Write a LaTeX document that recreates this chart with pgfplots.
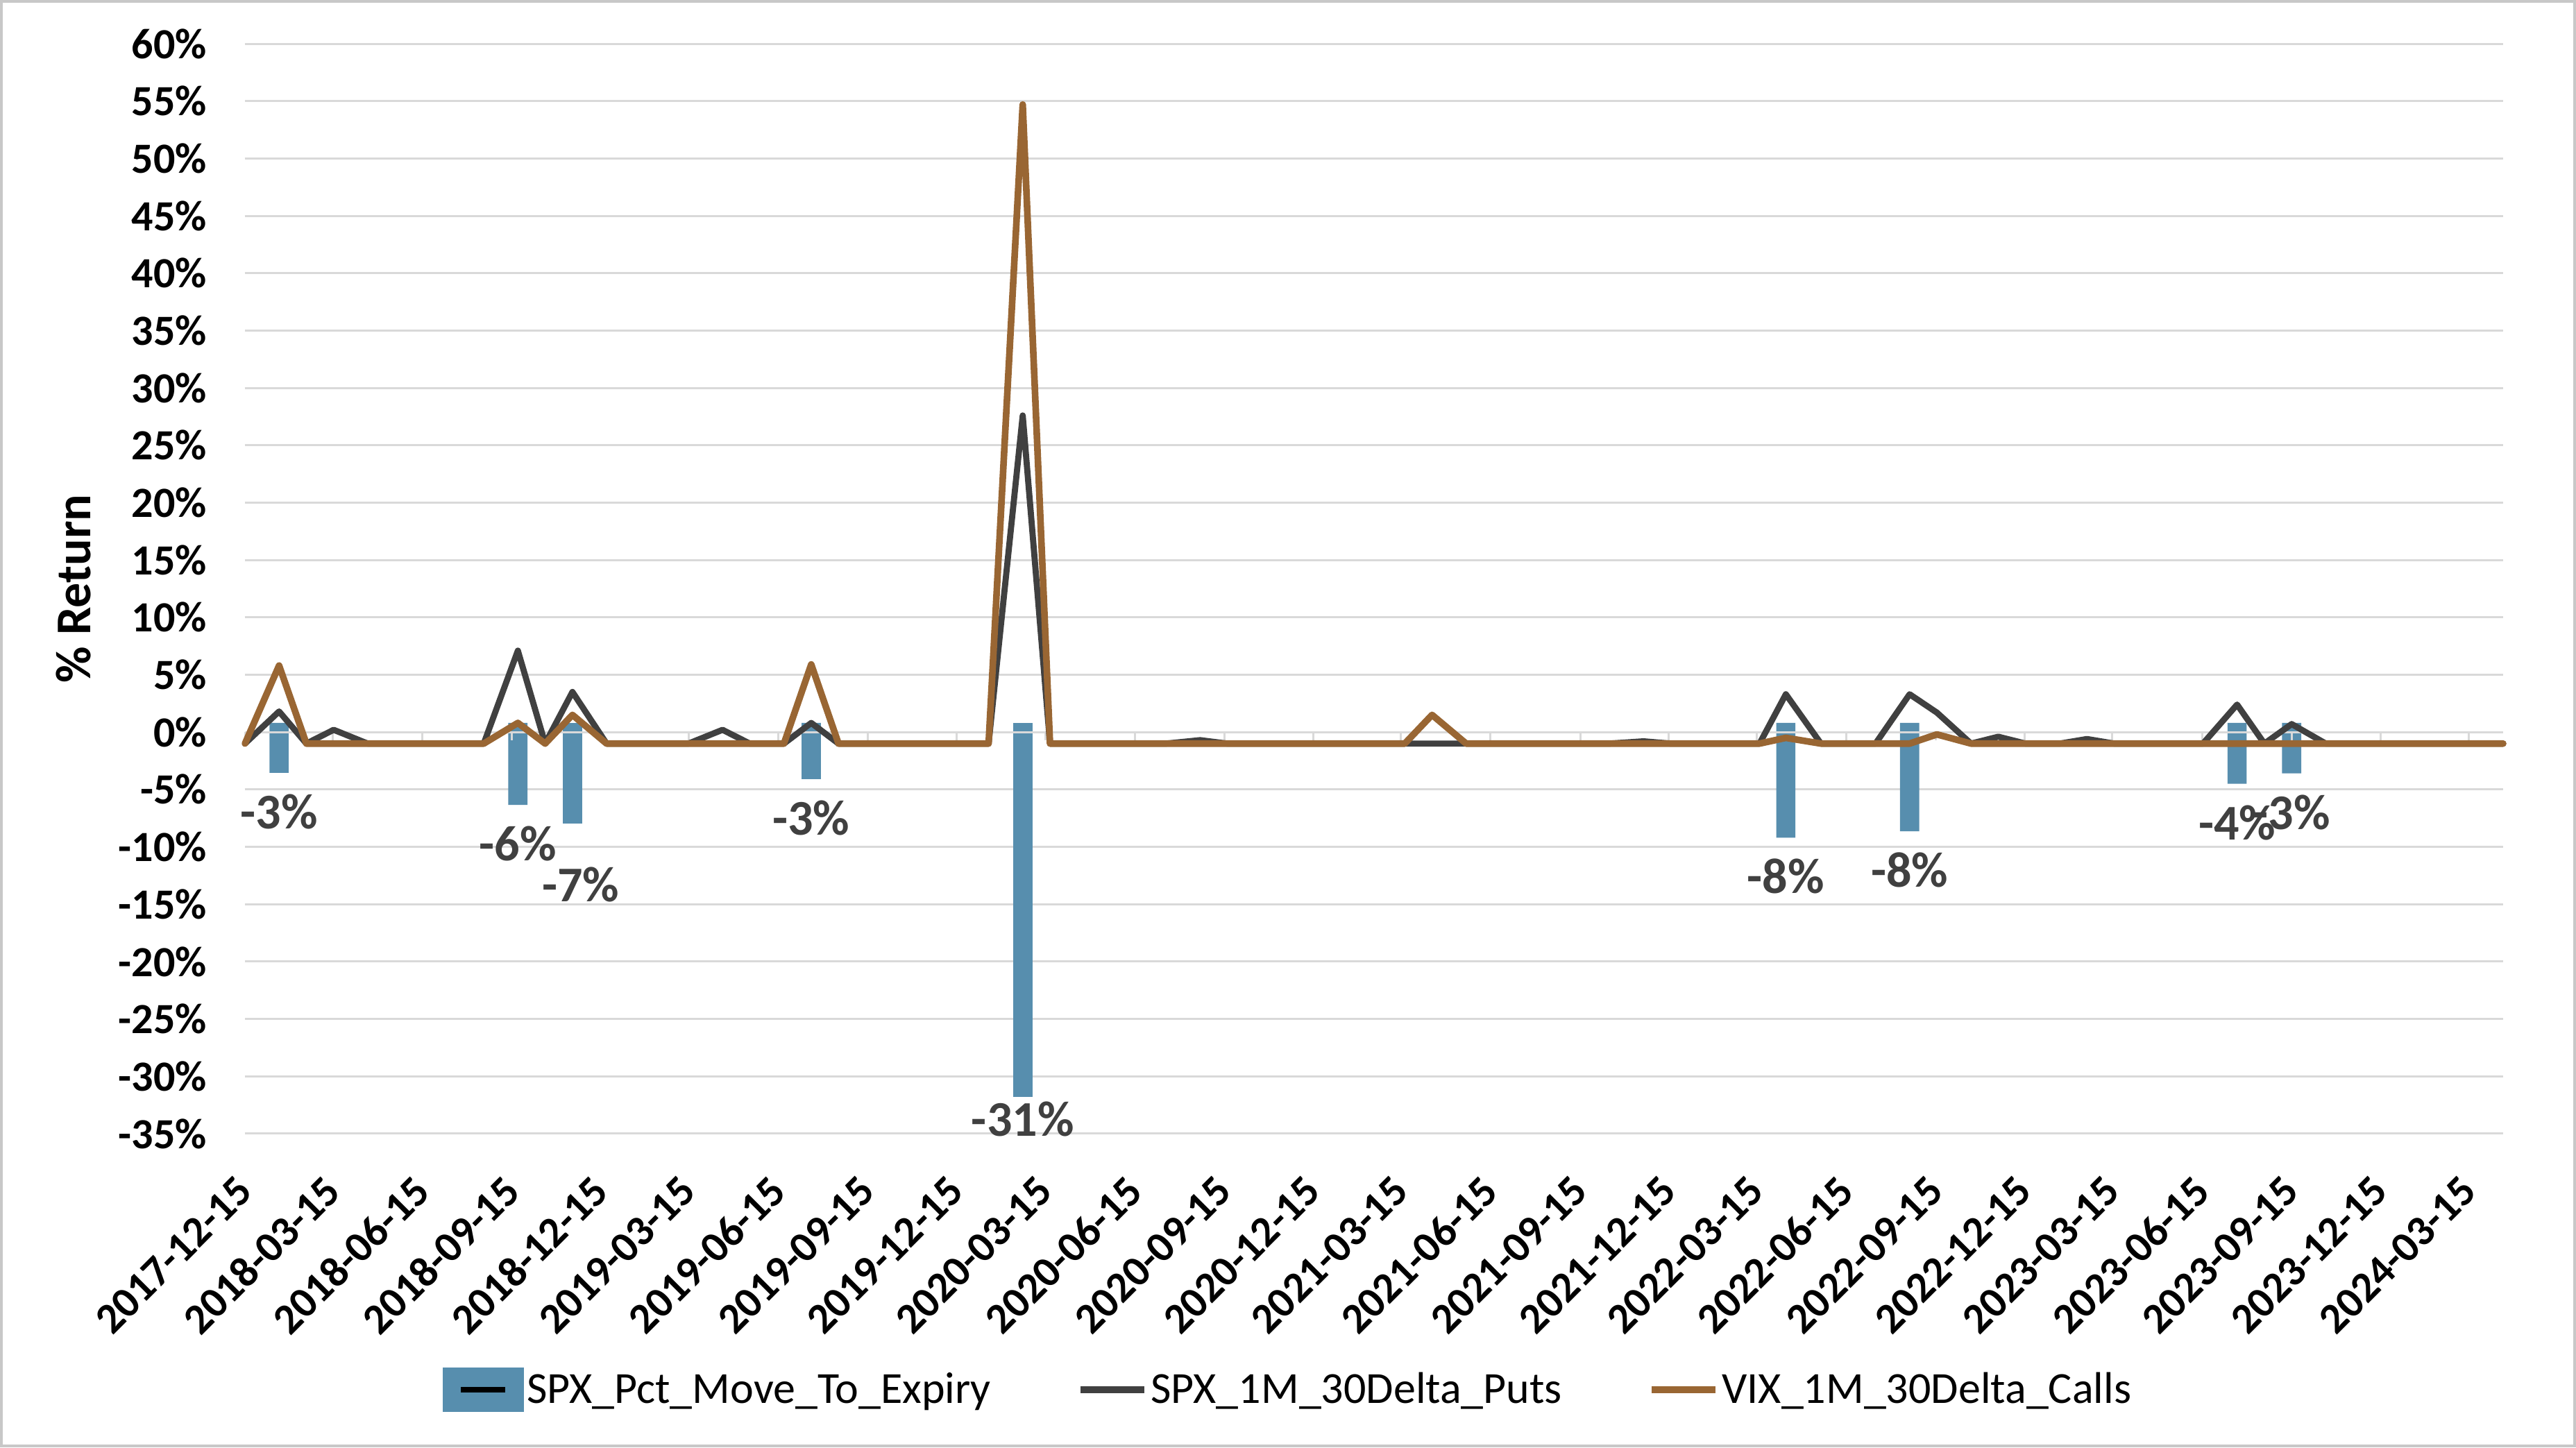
\documentclass[border=0pt]{standalone}
\usepackage{fontspec}
\setmainfont{Carlito}
\usepackage{pgfplots}
\pgfplotsset{compat=1.18}
\usepackage{pgfplotstable}

\definecolor{barblue}{HTML}{578EAE}
\definecolor{putgray}{HTML}{404040}
\definecolor{callbrown}{HTML}{996633}
\definecolor{gridgray}{HTML}{D9D9D9}
\definecolor{framegray}{HTML}{C8C8C8}
\definecolor{labgray}{HTML}{404040}

% day = days since 2017-12-15 (monthly expiry Fridays), returns in %
\pgfplotstableread{
day  puts  calls
0    -1    -1
35   1.8   5.8
63   -1    -1
91   0.2   -1
126  -1    -1
154  -1    -1
182  -1    -1
217  -1    -1
245  -1    -1
280  7.1   0.8
308  -1    -1
336  3.5   1.5
371  -1    -1
399  -1    -1
427  -1    -1
455  -1    -1
490  0.2   -1
518  -1    -1
553  -1    -1
581  0.8   5.9
609  -1    -1
644  -1    -1
672  -1    -1
700  -1    -1
735  -1    -1
763  -1    -1
798  27.6  54.7
826  -1    -1
854  -1    -1
882  -1    -1
917  -1    -1
945  -1    -1
980  -0.7  -1
1008 -1    -1
1036 -1    -1
1071 -1    -1
1099 -1    -1
1127 -1    -1
1162 -1    -1
1190 -1    -1
1218 -1    1.5
1253 -1    -1
1281 -1    -1
1309 -1    -1
1344 -1    -1
1372 -1    -1
1400 -1    -1
1435 -0.8  -1
1463 -1    -1
1498 -1    -1
1526 -1    -1
1554 -1    -1
1581 3.3   -0.5
1617 -1    -1
1645 -1    -1
1673 -1    -1
1708 3.3   -1
1736 1.7   -0.2
1771 -1    -1
1799 -0.4  -1
1827 -1    -1
1862 -1    -1
1890 -0.6  -1
1918 -1    -1
1953 -1    -1
1981 -1    -1
2009 -1    -1
2044 2.4   -1
2072 -1    -1
2100 0.7   -1
2135 -1    -1
2163 -1    -1
2191 -1    -1
2226 -1    -1
2254 -1    -1
2282 -1    -1
2317 -1    -1
}\returns

% SPX move bars: bottom of the bar (bars hang from +0.8)
\pgfplotstableread{
day  bot    lab
35   -3.55  -3
280  -6.35  -6
581  -4.1   -3
1581 -9.2   -8
1708 -8.65  -8
2044 -4.5   -4
2100 -3.6   -3
}\movesA
\pgfplotstableread{
day  bot    lab
336  -7.95  -7
}\movesB
\pgfplotstableread{
day  bot    lab
798  -31.8  -31
}\movesC

\begin{document}
\begin{tikzpicture}
\draw[framegray, line width=1pt] (0.5pt,-0.5pt) rectangle (927.5pt,-521pt);

\pgfplotsset{base/.style={at={(88.25pt,-15.75pt)}, anchor=north west,
  width=813.5pt, height=392.75pt, scale only axis, xmin=0, xmax=2317}}
\tikzset{barlab/.style={anchor=center, text=labgray,
  font=\fontsize{18}{21}\selectfont\bfseries}}

% grid, tick labels, legend
\begin{axis}[base, ymin=-35, ymax=60,
  ytick={-35,-30,...,60},
  yticklabels={-35\%,-30\%,-25\%,-20\%,-15\%,-10\%,-5\%,0\%,5\%,10\%,15\%,20\%,25\%,30\%,35\%,40\%,45\%,50\%,55\%,60\%},
  xtick={0,90,182,274,365,455,547,639,730,821,913,1005,1096,1186,1278,1370,1461,1551,1643,1735,1826,1916,2008,2100,2191,2282},
  xticklabels={2017-12-15,2018-03-15,2018-06-15,2018-09-15,2018-12-15,2019-03-15,2019-06-15,2019-09-15,2019-12-15,2020-03-15,2020-06-15,2020-09-15,2020-12-15,2021-03-15,2021-06-15,2021-09-15,2021-12-15,2022-03-15,2022-06-15,2022-09-15,2022-12-15,2023-03-15,2023-06-15,2023-09-15,2023-12-15,2024-03-15},
  ymajorgrids, grid style={gridgray, line width=0.75pt},
  axis line style={draw=none}, major tick length=0pt,
  tick label style={font=\fontsize{15.5}{18}\selectfont\bfseries},
  xticklabel style={yshift=-18pt, rotate=45, anchor=east, inner sep=0pt},
  yticklabel style={xshift=-10.3pt},
  ylabel={\% Return},
  ylabel style={at={([xshift=-61.75pt]axis description cs:0,0.5)}, anchor=center,
    font=\fontsize{18}{21}\selectfont\bfseries},
  legend columns=3,
  legend style={draw=none, fill=none, at={(0.462,-0.235)}, anchor=center,
    font=\fontsize{16}{19}\selectfont, nodes={inner sep=1pt},
    /tikz/every even column/.append style={column sep=30pt}},
  legend cell align=left]
\addlegendimage{legend image code/.code={
  \fill[barblue] (0pt,-7.75pt) rectangle (29pt,7.75pt);
  \draw[black, line width=2pt] (6.4pt,0pt) -- (22.3pt,0pt);}}
\addlegendimage{legend image code/.code={
  \draw[putgray, line width=2.6pt] (0pt,0pt) -- (23pt,0pt);}}
\addlegendimage{legend image code/.code={
  \draw[callbrown, line width=2.6pt] (0pt,0pt) -- (23pt,0pt);}}
\legend{SPX\_Pct\_Move\_To\_Expiry, SPX\_1M\_30Delta\_Puts, VIX\_1M\_30Delta\_Calls}
\end{axis}

% bars, on a scale shifted so that they start at +0.8
\begin{axis}[base, ymin=-35.8, ymax=59.2, hide axis, clip=false]
\addplot[ybar, bar shift=0pt, bar width=6.9pt, fill=barblue, draw=none,
  point meta=explicit symbolic, nodes near coords={\pgfplotspointmeta\%},
  every node near coord/.append style={barlab, yshift=-14pt}]
  table[x=day, y expr=\thisrow{bot}-0.8, meta=lab] {\movesA};
\addplot[ybar, bar shift=0pt, bar width=6.9pt, fill=barblue, draw=none,
  point meta=explicit symbolic, nodes near coords={\pgfplotspointmeta\%},
  every node near coord/.append style={barlab, yshift=-22pt, xshift=3pt}]
  table[x=day, y expr=\thisrow{bot}-0.8, meta=lab] {\movesB};
\addplot[ybar, bar shift=0pt, bar width=6.9pt, fill=barblue, draw=none,
  point meta=explicit symbolic, nodes near coords={\pgfplotspointmeta\%},
  every node near coord/.append style={barlab, yshift=-8pt}]
  table[x=day, y expr=\thisrow{bot}-0.8, meta=lab] {\movesC};
\end{axis}

% zero line with ticks, and the two option series
\begin{axis}[base, ymin=-35, ymax=60, hide axis, clip=false]
\draw[gridgray, line width=0.75pt] (axis cs:0,0) -- (axis cs:2317,0);
\pgfplotsinvokeforeach{0,90,182,274,365,455,547,639,730,821,913,1005,1096,1186,1278,1370,1461,1551,1643,1735,1826,1916,2008,2100,2191,2282}{
  \draw[gridgray, line width=0.75pt] (axis cs:#1,0) -- ([yshift=-3pt]axis cs:#1,0);
}
\addplot[putgray, line width=2.2pt, line join=round, line cap=round, mark=none]
  table[x=day, y=puts] {\returns};
\addplot[callbrown, line width=2.4pt, line join=round, line cap=round, mark=none]
  table[x=day, y=calls] {\returns};
\end{axis}
\end{tikzpicture}
\end{document}
